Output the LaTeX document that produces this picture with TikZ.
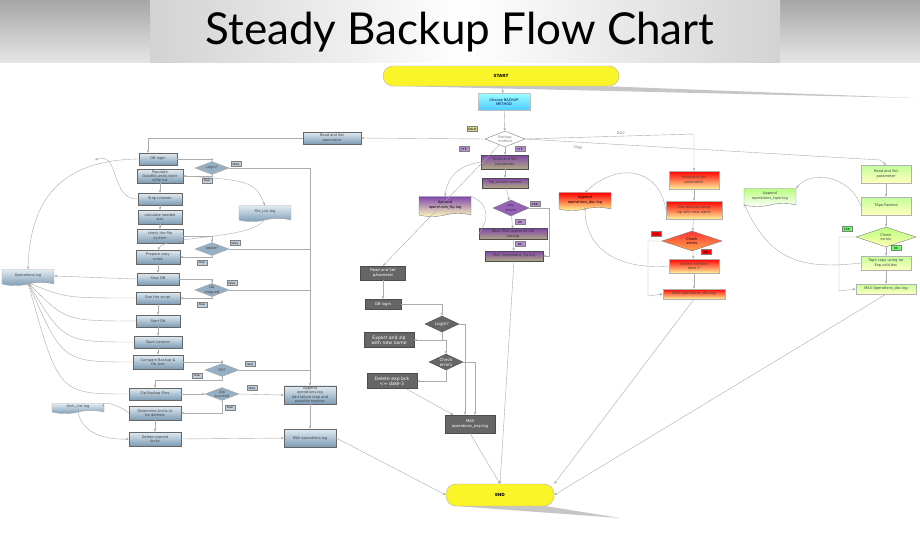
\documentclass[tikz,border=0pt]{standalone}
\usepackage{fontspec}
\setmainfont{DejaVu Sans}
\newfontfamily\titlefont{Lato}
\usetikzlibrary{shapes.geometric,shapes.symbols,arrows.meta,calc}
\definecolor{steel}{RGB}{125,155,180}
\definecolor{steellt}{RGB}{225,235,242}
\definecolor{purp}{RGB}{130,70,170}
\definecolor{purplo}{RGB}{175,170,130}
\definecolor{yel}{RGB}{250,245,40}
\begin{document}
\begin{tikzpicture}[x=1pt,y=-1pt,
  every node/.style={font=\fontsize{3.6}{4.2}\selectfont,align=center,inner sep=1pt},
  lb/.style={draw=gray!80!black,top color=steellt,bottom color=steel,minimum width=#1,minimum height=12,text=black!75},
  lb/.default=38,
  ld/.style={diamond,aspect=2.6,draw=gray!70,fill=steel!80,minimum width=34,minimum height=13,inner sep=0pt,text=black!75},
  ldoc/.style={shape=tape,tape bend top=none,tape bend height=3,draw=gray!70,top color=steellt,bottom color=steel,minimum width=#1,minimum height=16,text=black!75},
  pb/.style={draw=gray!60!black,top color=purp,bottom color=purplo,minimum width=#1,minimum height=14,text=black!80},
  pd/.style={diamond,aspect=2.2,draw=gray,fill=purp!85,minimum width=36,minimum height=16,inner sep=0pt,text=black!80},
  pdoc/.style={shape=tape,tape bend top=none,tape bend height=3,draw=gray,top color=purp,bottom color=yellow!25,minimum width=52,minimum height=20},
  rb/.style={draw=gray!60,top color=red,bottom color=orange!30!yellow!40,minimum width=#1,minimum height=18,text=black!75},
  rd/.style={diamond,aspect=2.8,draw=gray,top color=red!80,bottom color=orange!70,minimum width=60,minimum height=20,inner sep=0pt},
  rdoc/.style={shape=tape,tape bend top=none,tape bend height=3,draw=gray,top color=red,bottom color=yellow!40,minimum width=52,minimum height=18},
  gb/.style={draw=gray!60,top color=green!45!lime!40,bottom color=yellow!25!white,minimum width=#1,minimum height=18,text=black!75},
  gd/.style={diamond,aspect=2.8,draw=gray,top color=green!40!lime!50,bottom color=yellow!30,minimum width=60,minimum height=20,inner sep=0pt,text=black!75},
  gdoc/.style={shape=tape,tape bend top=none,tape bend height=3,draw=gray,top color=green!40!lime!50,bottom color=white,minimum width=52,minimum height=18,text=black!75},
  eb/.style={draw=black!70,fill=black!60,text=white,minimum width=#1,minimum height=15,font=\fontsize{4.6}{5.2}\selectfont},
  ed/.style={diamond,aspect=2.2,draw=black!70,fill=black!60,text=white,minimum width=34,minimum height=16,inner sep=0pt,font=\fontsize{4.2}{5}\selectfont},
  tag/.style={draw=gray,fill=#1,inner sep=0.6pt,minimum width=10,minimum height=5,font=\fontsize{2.8}{3}\selectfont},
  ar/.style={draw=gray!65,-{Stealth[length=3pt,width=2.5pt]}},
  ln/.style={draw=gray!65}]
\useasboundingbox (0,0) rectangle (920,546);
\fill[white] (0,0) rectangle (920,546);
% title
\shade[top color=gray!70,bottom color=gray!20] (0,0) rectangle (920,62);
\shade[left color=gray!35,right color=gray!35,middle color=white] (150,0) rectangle (780,62);
\node[font=\titlefont\fontsize{44}{48}\selectfont,text=black] (title) at (460,32) {Steady Backup Flow Chart};
% shadows
\fill[gray!45] (395,86) -- (915,98) -- (600,86) -- cycle;
\fill[gray!45] (455,506) -- (620,518) -- (545,506) -- cycle;
% top
\node[draw=gray!60,fill=yel,rounded corners=10,minimum width=236,minimum height=20,font=\fontsize{4.2}{5}\selectfont\bfseries] (start) at (501,76) {START};
\node[draw=gray!50,top color=cyan!40,bottom color=cyan!70!blue!70,minimum width=52,minimum height=17,text=blue!30!black] (choose) at (504,102) {Choose BACKUP\\METHOD};
\node[diamond,aspect=2.4,draw=gray,fill=white,minimum width=40,minimum height=16,inner sep=0pt,text=gray] (bm) at (505,139) {Backup\\method};
\draw[ar] (start) -- (choose);
\draw[ar] (choose) -- (bm);
\node[tag=olive!35] (tcold) at (472,129) {COLD};
\node[text=gray] (tdoc) at (621,133) {DOC};
\node[text=gray,rotate=-8] (ttape) at (578,148) {TAPE};
\node[draw=gray!60,fill=yel,rounded corners=10,minimum width=108,minimum height=22,font=\fontsize{4.2}{5}\selectfont\bfseries] (end) at (500,495) {END};
% left column
\node[lb=58] (rs1) at (332,138) {Read and Set\\parameter};
\node[lb] (dbl) at (158,159) {DB login};
\node[ld] (login) at (212,168) {Login?};
\node[tag=steel!50] at (236,164) {false};
\node[tag=steel!50] at (207,181) {true};
\node[lb=46,minimum height=14] (pop) at (160,176) {Populate\\Datafile,undo,contr\\olfile list};
\node[lb=44] (stl) at (160,199) {Stop Listener};
\node[lb=44,minimum height=14] (calc) at (160,217) {calculate needed\\size};
\node[lb=46,minimum height=14] (chk) at (160,236) {check the file\\system};
\node[ldoc=52] (flist) at (265,212) {File\_List.log};
\node[ld] (space) at (212,249) {space?};
\node[tag=steel!50] at (235,243) {false};
\node[tag=steel!50] at (202,263) {true};
\node[lb=44,minimum height=14] (prep) at (158,257) {Prepare copy\\script};
\node[lb=42] (stdb) at (158,279) {Stop DB};
\node[ld] (dbst) at (212,290) {Db\\stopped};
\node[tag=steel!50] at (232,283) {false};
\node[tag=steel!50] at (202,305) {true};
\node[ldoc=52] (oplog) at (28,276) {Operations.log};
\node[lb=44] (run) at (158,298) {Run the script};
\node[lb=44] (sdb) at (158,321) {Start Db};
\node[lb=48] (slis) at (158,342) {Start Listener};
\node[lb=50,minimum height=14] (cmp) at (158,362) {Compare Backup \&\\Db size};
\node[ld] (ok) at (222,370) {OK?};
\node[tag=steel!50] at (250,364) {false};
\node[tag=steel!50] at (197,376) {true};
\node[lb=52] (zip) at (155,394) {Zip Backup Files};
\node[ld] (zs) at (222,394) {Zip\\succeed};
\node[tag=steel!50] at (252,388) {false};
\node[tag=steel!50] at (230,408) {true};
\node[ldoc=52,minimum height=10] (arch) at (78,407) {Arch\_List.log};
\node[lb=52,minimum height=14] (det) at (155,413) {Determine Archs to\\be deleted};
\node[lb=52,minimum height=14] (del) at (155,439) {Delete expired\\Archs};
\node[lb=52,minimum height=18] (app) at (310,395) {Append\\operations.log\\Add failure step and\\possible reasons};
\node[lb=52,minimum height=18] (mail) at (310,438) {MAil operations.log};
% left edges
\draw[ar] (bm.west) -- (rs1.east);
\draw[ar] (rs1.west) -| ([xshift=-10]dbl.north);
\draw[ar] (dbl.east) -| (login.north);
\draw[ar] (login.south) |- (pop.east);
\draw[ln] (login.east) -- (310,168);
\draw[ar] (310,168) -- (app.north);
\draw[ar] (pop) -- (stl);
\draw[ar] (stl) -- (calc);
\draw[ar] (calc) -- (chk);
\draw[ar] (pop.east) .. controls (250,180) and (255,182) .. (flist.north);
\draw[ar] (chk.east) -| (space.north);
\draw[ar] (space.south) |- (prep.east);
\draw[ln] (space.east) -- (310,249);
\draw[ar] (flist.south) .. controls (255,240) and (165,235) .. (prep.north);
\draw[ar] (prep) -- (stdb);
\draw[ar] (stdb.east) -| (dbst.north);
\draw[ar] (dbst.south) |- (run.east);
\draw[ln] (dbst.east) -- (310,290);
\draw[ar] (run) -- (sdb);
\draw[ar] (sdb) -- (slis);
\draw[ar] (slis) -- (cmp);
\draw[ar] (cmp.east) -| (ok.north);
\draw[ln] (ok.east) -- (310,370);
\draw[ar] (ok.south) -- (222,380) -| (zip.north);
\draw[ar] (zip.east) -- (zs.west);
\draw[ar] (zs.east) -- (app.west);
\draw[ar] (zs.south) |- (det.east);
\draw[ar] (det) -- (del);
\draw[ar] (det.west) .. controls (120,405) and (100,400) .. (arch.east);
\draw[ar] (arch.south) .. controls (80,430) and (100,440) .. (del.west);
\draw[ar] (del.east) -- (mail.west);
\draw[ar] (app.south) -- (mail.north);
\draw[ar] (mail.east) -- (end.west);
\draw[ar] (stdb.west) -- (oplog.east);
\draw[ar] (dbl.west) .. controls (60,160) and (30,200) .. (oplog.north);
\draw[ar] (stl.west) .. controls (110,200) and (120,150) .. (95,160);
\foreach \n in {run,sdb,slis,cmp,zip}{\draw[ar] (\n.west) .. controls ($(\n.west)+(-70,0)$) .. (oplog.south);}
% purple
\node[pb=47] (fr) at (505,162) {Read and Set\\pArameter};
\node[tag=purp!60] at (464,149) {FTP};
\node[tag=purp!60] at (520,149) {FTP};
\node[pb=46,minimum height=10] (fc) at (505,183) {Ftp\_onnect server};
\node[pd] (fe) at (511,208) {any\\errors};
\node[tag=purp!60] at (535,204) {ERR};
\node[tag=purp!60] at (520,222) {OK};
\node[tag=purp!60] at (520,244) {OK};
\node[pdoc] (fa) at (445,205) {Append\\operations\_ftp.log};
\node[pb=68,minimum height=11] (fm) at (513,234) {Mput files overwrite old\\backup};
\node[pb=58,minimum height=10] (fmail) at (514,256) {MAil Operations\_ftp.log};
\draw[ar] (bm.south) -- (fr.north);
\draw[ar] (fr) -- (fc);
\draw[ar] (fc) -- (fe);
\draw[ar] (fe) -- (fm);
\draw[ar] (fm) -- (fmail);
\draw[ar] (fe.east) -| (549,256) -- (fmail.east);
\draw[ar] (fr.west) .. controls (460,165) and (448,175) .. (fa.north);
\draw[ln] (fm.west) .. controls (495,210) and (480,200) .. (fa.north east);
\draw[ar] (fmail.south) -- (end.north);
% red
\node[rb=50] (dr) at (694,180) {Read and Set\\parameter};
\node[rb=56] (dz) at (694,210) {Doc backup using\\zip with new name};
\node[rd] (de) at (692,241) {Check\\errors};
\node[tag=red] at (656,234) {ERR};
\node[tag=red] at (706,252) {OK};
\node[rb=50,minimum height=14] (dd) at (694,266) {Delete old files\\date-7};
\node[rb=62,minimum height=10] (dm) at (694,294) {MAil Operations\_doc.log};
\node[rdoc] (da) at (585,200) {Append\\operations\_doc.log};
\draw[ar] (bm.east) -- (694,134) -- (dr.north);
\draw[ar] (dr) -- (dz);
\draw[ar] (dz) -- (de);
\draw[ar] (de) -- (dd);
\draw[ar] (dd) -- (dm);
\draw[ar] (de.west) -| (648,296) -- (dm.west);
\draw[ar] (dz.west) .. controls (660,170) and (620,160) .. (da.north);
\draw[ar] (dd.west) .. controls (620,270) and (585,250) .. (da.south);
\draw[ar] (dm.south) -- (end.north east);
% green
\node[gb=50] (gr) at (886,174) {Read and Set\\parameter};
\node[gb=50] (gw) at (886,206) {TApe Rewind};
\node[gd] (ge) at (886,237) {Check\\errors};
\node[tag=green!60] at (847,229) {ERR};
\node[tag=green!60] at (896,248) {OK};
\node[gb=50,minimum height=14] (gt) at (886,263) {Tape copy using tar\\Exp,cold,doc};
\node[gb=60,minimum height=10] (gm) at (886,289) {MAil Operations\_doc.log};
\node[gdoc] (ga) at (770,196) {Append\\operations\_tape.log};
\draw[ar] (bm.east) -- (880,160) -- (gr.north);
\draw[ar] (gr) -- (gw);
\draw[ar] (gw) -- (ge);
\draw[ar] (ge) -- (gt);
\draw[ar] (gt) -- (gm);
\draw[ar] (ge.west) -| (839,291) -- (gm.west);
\draw[ar] (gw.west) .. controls (850,175) and (810,170) .. (ga.north east);
\draw[ar] (gt.west) .. controls (800,270) and (770,260) .. (ga.south west);
\draw[ar] (gm.south) -- (end.east);
% exp
\node[eb=45,minimum height=14,font=\fontsize{3.8}{4.4}\selectfont] (er) at (383,273) {Read and Set\\pArameter};
\node[eb=36,minimum height=10,font=\fontsize{3.8}{4.4}\selectfont] (edb) at (383,304) {DB login};
\node[ed] (elog) at (442,324) {Login?};
\node[eb=50] (eexp) at (389,340) {Export and zip\\with new name};
\node[ed] (eck) at (446,362) {Check\\errors};
\node[eb=50] (edel) at (392,381) {Delete exp bck\\<= date-3};
\node[eb=50,minimum height=18,font=\fontsize{3.8}{4.4}\selectfont] (em) at (470,424) {MAil\\operations\_exp.log};
\draw[ar] (bm) -- (er.north);
\draw[ar] (er) -- (edb);
\draw[ar] (edb.east) -| (elog.north);
\draw[ar] (elog.south) |- (eexp.east);
\draw[ar] (elog.east) -| ([xshift=-5]em.north);
\draw[ar] (eexp.east) -| (eck.north);
\draw[ar] (eck.south) |- (edel.east);
\draw[ar] (eck.east) -| ([xshift=5]em.north);
\draw[ar] (edel) -- (em);
\draw[ar] (em.south) -- (end.north);
\end{tikzpicture}
\end{document}
